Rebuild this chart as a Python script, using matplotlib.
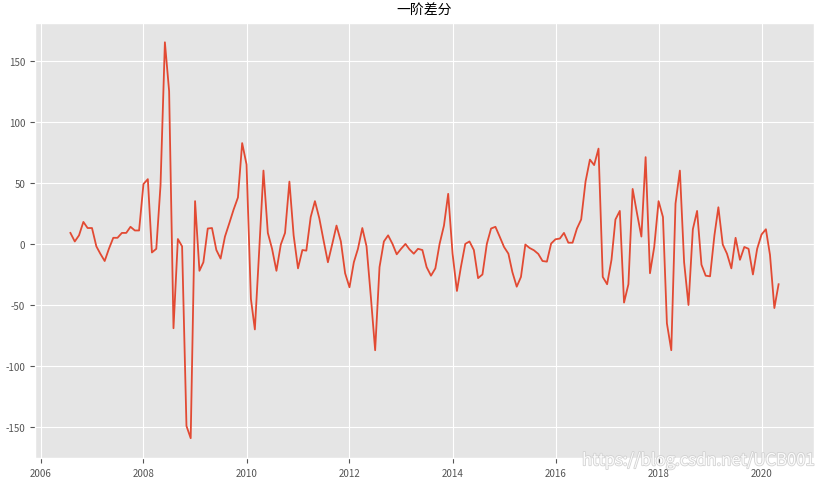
import numpy as np
import pandas as pd
import matplotlib
matplotlib.use('Agg')
import matplotlib.pyplot as plt
import matplotlib.patheffects as pe

plt.style.use('ggplot')
plt.rcParams['font.family'] = ['Noto Sans CJK SC', 'DejaVu Sans']
plt.rcParams['axes.unicode_minus'] = False

# monthly first difference, 2006-08 .. 2020-05
start = '2006-08-01'
v2006 = [9, 2, 7, 18, 13]
v2007 = [13, -2, -8, -14, -4, 5, 5, 9, 9, 14, 11, 11]
v2008 = [49, 53, -7, -4, 48, 165, 125, -69, 4, -2, -149, -159]
v2009 = [35, -22, -15, 12.6, 13, -5, -12, 6, 17, 28, 38, 82.5]
v2010 = [65, -45, -70, -5, 60, 9, -4, -22, -0.5, 9, 51, 7]
v2011 = [-20, -5, -5.5, 22, 35, 21, 3, -15, 0, 15, 2, -24]
v2012 = [-35.5, -15, -4, 13, -2, -44, -87, -19, 2, 7, 0, -8.5]
v2013 = [-4, 0, -4.4, -8, -4, -5, -19, -26, -20, 0, 15, 41]
v2014 = [-8, -38.5, -19, 0, 2, -5, -28, -25, 0, 12.6, 14, 6]
v2015 = [-2.5, -8, -23, -35, -27, -0.5, -3.3, -5.2, -8.2, -14, -14.5, 0.3]
v2016 = [3.8, 4.4, 9, 1, 1, 12.6, 20, 51, 69, 64.5, 78, -27]
v2017 = [-33, -13, 20, 27, -48, -33, 45, 25, 6, 71, -24, -2.5]
v2018 = [35, 22, -65, -87, 33, 60, -15, -50, 12, 27, -17, -26]
v2019 = [-26.5, 7, 30, -0.5, -8, -20, 5, -13, -2.5, -4, -25, -4]
v2020 = [7.7, 12, -9, -52.5, -33]

vals = (v2006 + v2007 + v2008 + v2009 + v2010 + v2011 + v2012 + v2013
        + v2014 + v2015 + v2016 + v2017 + v2018 + v2019 + v2020)
dates = pd.date_range(start, periods=len(vals), freq='MS')
diff = pd.Series(vals, index=dates)

fig = plt.figure(figsize=(8.22, 4.81), dpi=100)
ax = fig.add_axes([35/822, 1-459/481, (814-35)/822, (459-23.5)/481])
ax.plot(diff.index, diff.values, color='#E24A33', lw=1.3)
ax.set_title('一阶差分', fontsize=10, pad=6)
ax.tick_params(labelsize=7)

# csdn watermark
fig.text(0.992, 0.04, 'https://blog.csdn.net/UCB001', ha='right', va='center',
         fontsize=12, color='white', alpha=0.9,
         path_effects=[pe.withStroke(linewidth=1.2, foreground='#cfcfcf')])

fig.savefig('out.png', dpi=100)
